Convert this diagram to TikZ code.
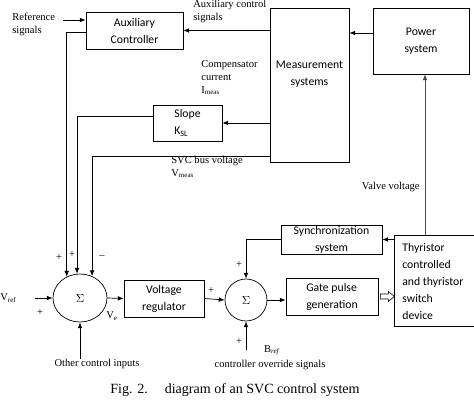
\documentclass[tikz,border=0pt]{standalone}
\usepackage{fontspec}
\setmainfont{Liberation Serif}
\newfontfamily\boxfont{Carlito}
\usetikzlibrary{arrows.meta, positioning, shapes.geometric}
\newdimen\unitpx
\unitpx=0.03cm
\def\lo#1{\textsubscript{#1}}
\tikzset{
  blk/.style={draw, line width=0.6pt, inner sep=0pt, font=\boxfont\fontsize{10}{14.5}\selectfont},
  blktxt/.style={inner sep=0pt, font=\boxfont\fontsize{10}{14.5}\selectfont},
  sumnode/.style={draw, ellipse, line width=0.6pt, inner sep=0pt},
  lbl/.style={inner sep=0pt, font=\fontsize{9}{11}\selectfont},
}

\begin{document}
\begin{tikzpicture}[x=0.03cm, y=-0.03cm, >={Latex[length=5pt, width=4pt]}, line width=0.6pt]
    \useasboundingbox (0,0) rectangle (474,402);
    \node[blk, minimum width=97\unitpx, minimum height=37\unitpx, align=center] (aux) at (134.5,30.5) {Auxiliary\\Controller};
    \node[blk, minimum width=79\unitpx, minimum height=154\unitpx] (meas) at (309.5,85) {};
    \node[blktxt, align=center] (meastxt) at (309.5,74) {Measurement\\systems};
    \node[blk, minimum width=96\unitpx, minimum height=66\unitpx, align=center] (power) at (421,41) {Power\\system};
    \node[blk, minimum width=69\unitpx, minimum height=36\unitpx, align=left] (slope) at (187.5,123) {Slope\\K\lo{SL}};
    \node[sumnode, minimum width=54\unitpx, minimum height=48\unitpx] (sum1) at (80,298) {$\Sigma$};
    \node[blk, minimum width=80\unitpx, minimum height=37\unitpx, align=center] (vreg) at (164,298.5) {Voltage\\regulator};
    \node[sumnode, minimum width=42\unitpx, minimum height=42\unitpx] (sum2) at (246,300) {$\Sigma$};
    \node[blk, minimum width=101\unitpx, minimum height=29\unitpx, align=center] (sync) at (331.5,239.5) {Synchronization\\system};
    \node[blk, minimum width=92\unitpx, minimum height=37\unitpx, align=left] (gate) at (332,296.5) {Gate pulse\\generation};
    \node[blk, minimum width=80\unitpx, minimum height=91\unitpx] (thyr) at (434,280.5) {};
    \node[blktxt, align=left, anchor=west] (thyrtxt) at (402,281) {Thyristor\\controlled\\and thyristor\\switch\\device};

    \node[lbl, align=left, anchor=north west] (reflbl) at (12,13) {Reference\\signals};
    \node[lbl, align=left, anchor=north west] (auxlbl) at (193,0) {Auxiliary control\\signals};
    \node[lbl, align=left, anchor=north west] (complbl) at (201,60) {Compensator\\current\\I\lo{meas}};
    \node[lbl, align=left, anchor=north west] (svclbl) at (171,156) {SVC bus voltage\\V\lo{meas}};
    \node[lbl, anchor=east] (valvelbl) at (420,187) {Valve voltage};
    \node[lbl, anchor=west] (vreflbl) at (0,298) {V\lo{ref}};
    \node[lbl] (velbl) at (112,316) {V\lo{e}};
    \node[lbl] (other) at (97,364) {Other control inputs};
    \node[lbl] (breflbl) at (272,350) {B\lo{\textit{ref}}};
    \node[lbl] (override) at (270,365) {controller override signals};
    \node[lbl] (p1) at (59,258) {+};
    \node[lbl] (p2) at (72,255) {+};
    \node[lbl] (m1) at (102,257) {--};
    \node[lbl] (p3) at (40,313) {+};
    \node[lbl] (p4) at (211,291) {+};
    \node[lbl] (p5) at (239,265) {+};
    \node[lbl] (p6) at (239,342) {+};
    \node[font=\fontsize{12}{14}\selectfont] (caption) at (235,390) {Fig. 2.\hspace{1.2em}diagram of an SVC control system};

    \coordinate (refin) at (63,20);
    \coordinate (vrefin) at (35,298);
    \coordinate (brefin) at (246,350);
    \coordinate (vv) at (425,0);

    \draw[->] (refin) -- (refin -| aux.west);
    \draw[->] (meas.west |- aux.east) -- (aux.east);
    \draw[->] (power.west |- 0,33) -- (meas.east |- 0,33);
    \draw[->] (meas.west |- slope.east) -- (slope.east);
    \draw[->] (aux.west |- 0,32) -| (sum1.122);
    \draw[->] (slope.west |- 0,116) -| (sum1.97);
    \draw[->] (meas.west |- 0,156) -| (sum1.61);
    \draw[->] (vrefin) -- (sum1.west);
    \draw[->] (other.north -| sum1.south) -- (sum1.south);
    \draw[->] (sum1.east) -- (vreg.west);
    \draw[->] (vreg.east) -- (sum2.west);
    \draw[->] (sync.west) -| (sum2.north);
    \draw[->] (thyr.west |- sync.east) -- (sync.east);
    \draw[->] (sum2.east) -- (gate.west |- sum2.east);
    \draw[line width=0.5pt, line join=miter] (gate.east) ++(2,-2.5) -- ++(8,0) -- ++(0,-2.5) -- ++(6,5) -- ++(-6,5) -- ++(0,-2.5) -- ++(-8,0) -- cycle;
    \draw[black!70, ->] (thyr.north -| vv) -- (power.south -| vv);
    \draw[->] (brefin) -- (sum2.south);
\end{tikzpicture}
\end{document}
